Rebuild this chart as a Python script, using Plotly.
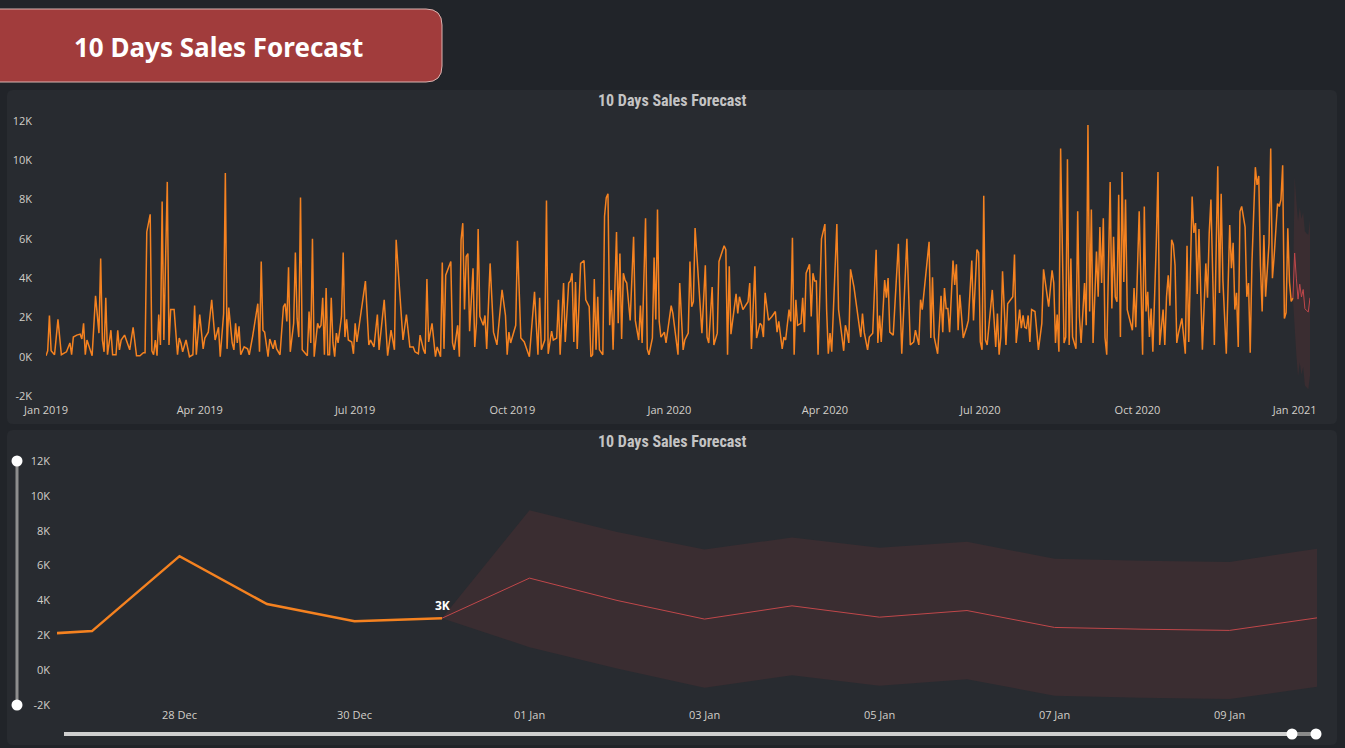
import pandas as pd
import plotly.graph_objects as go

# ---------------- data (sales in thousands) ----------------
# day offset from 2019-01-01 and observed daily sales (K)
obs_day = [
    0, 1, 2, 3, 5, 7, 9, 12, 14, 15, 16, 18, 20, 21, 22, 23, 24, 27, 29, 31,
    32, 33, 34, 35, 36, 38, 39, 41, 42, 43, 44, 46, 49, 51, 53, 55, 57, 58, 59, 61,
    62, 63, 64, 65, 66, 67, 68, 69, 71, 72, 73, 75, 77, 78, 79, 80, 82, 84, 86, 87,
    88, 90, 92, 93, 95, 97, 99, 101, 102, 104, 105, 106, 107, 108, 109, 110, 111, 112, 113, 114,
    116, 118, 119, 121, 124, 125, 126, 127, 128, 130, 131, 133, 134, 135, 137, 139, 140, 141, 142, 143,
    145, 146, 147, 148, 149, 150, 153, 154, 155, 156, 157, 159, 160, 161, 162, 163, 164, 165, 166, 167,
    168, 169, 170, 171, 173, 174, 175, 176, 177, 179, 180, 181, 182, 187, 189, 190, 192, 194, 195, 198,
    200, 202, 204, 205, 208, 209, 211, 213, 215, 216, 218, 219, 221, 222, 223, 224, 226, 228, 229, 231,
    232, 233, 234, 236, 237, 238, 239, 241, 242, 243, 244, 245, 246, 247, 248, 250, 251, 252, 253, 254,
    256, 257, 258, 260, 262, 264, 267, 269, 270, 271, 272, 275, 276, 278, 280, 281, 283, 286, 288, 289,
    290, 292, 293, 294, 296, 297, 299, 300, 301, 303, 304, 306, 307, 308, 309, 310, 311, 313, 315, 316,
    318, 319, 320, 321, 322, 323, 324, 326, 327, 328, 329, 330, 331, 332, 334, 335, 336, 337, 338, 339,
    340, 342, 344, 345, 347, 348, 349, 351, 352, 353, 355, 356, 357, 358, 359, 360, 362, 363, 365, 366,
    367, 370, 371, 373, 374, 376, 377, 378, 379, 380, 382, 384, 386, 387, 388, 390, 391, 393, 394, 397,
    398, 399, 400, 401, 404, 405, 406, 408, 411, 412, 413, 415, 416, 418, 419, 420, 421, 423, 425, 427,
    428, 429, 431, 432, 433, 435, 436, 437, 438, 439, 440, 442, 443, 444, 445, 447, 448, 449, 450, 451,
    452, 454, 456, 457, 458, 459, 460, 463, 464, 466, 467, 468, 469, 470, 471, 473, 475, 477, 478, 479,
    481, 482, 484, 486, 487, 488, 489, 491, 492, 493, 494, 496, 499, 501, 504, 506, 508, 509, 511, 512,
    513, 517, 518, 519, 520, 522, 524, 525, 526, 527, 528, 529, 531, 532, 533, 534, 535, 537, 539, 540,
    542, 543, 545, 546, 547, 548, 549, 550, 551, 554, 556, 557, 558, 559, 560, 562, 563, 564, 566, 567,
    568, 570, 571, 572, 573, 574, 575, 576, 577, 579, 581, 583, 584, 587, 589, 590, 591, 592, 593, 594,
    596, 597, 598, 599, 600, 601, 603, 604, 605, 606, 608, 609, 610, 611, 612, 613, 614, 615, 616, 617,
    618, 619, 620, 621, 623, 624, 625, 626, 627, 628, 629, 630, 631, 632, 633, 636, 637, 638, 640, 641,
    642, 643, 644, 645, 646, 647, 648, 650, 651, 652, 654, 655, 656, 657, 658, 659, 660, 661, 662, 663,
    665, 667, 668, 669, 671, 672, 673, 674, 675, 677, 679, 680, 681, 682, 684, 686, 687, 688, 689, 691,
    693, 694, 695, 696, 697, 698, 699, 700, 702, 703, 704, 705, 706, 708, 709, 710, 711, 712, 713, 714,
    716, 717, 718, 719, 721, 722, 723, 724, 725, 726, 727, 728, 729, 730,
]
obs_sales_k = [
    0.05, 0.3, 2.1, 0.3, 0.1, 1.9, 0.1, 0.25, 0.7, 0.1, 1.0, 1.1, 1.15, 0.9, 1.7, 0.1, 0.85, 0.05, 3.1, 1.2,
    5.0, 0.85, 0.25, 3.0, 0.1, 1.35, 0.1, 0.1, 1.35, 0.35, 0.85, 1.1, 0.35, 1.5, 0.05, 0.05, 0.2, 0.2, 6.35, 7.25,
    0.3, 0.1, 0.85, 0.05, 2.15, 0.6, 7.9, 0.85, 8.9, 0.6, 2.4, 2.4, 0.1, 0.95, 0.7, 0.25, 0.85, 0.0, 0.1, 2.6,
    0.1, 2.15, 0.4, 0.95, 1.25, 2.9, 0.85, 1.5, 0.0, 2.2, 9.35, 0.4, 2.5, 1.35, 0.7, 0.35, 1.7, 0.7, 1.55, 0.1,
    0.5, 0.4, 0.1, 1.05, 2.7, 0.25, 4.85, 1.35, 1.25, 0.0, 0.9, 0.4, 0.85, 0.4, 0.1, 2.55, 2.7, 1.8, 4.55, 0.25,
    1.7, 5.3, 1.95, 1.0, 8.1, 0.35, 0.05, 2.3, 0.7, 6.0, 0.0, 1.7, 1.45, 1.6, 3.0, 0.1, 3.5, 0.1, 0.1, 3.0,
    0.7, 0.0, 1.2, 0.7, 2.05, 5.3, 1.0, 1.9, 0.85, 0.75, 0.15, 1.7, 0.75, 3.85, 0.6, 0.85, 0.5, 2.15, 0.35, 2.9,
    0.05, 1.35, 0.35, 5.95, 2.4, 0.85, 2.15, 0.5, 0.5, 0.25, 0.15, 1.1, 0.35, 0.15, 3.95, 0.75, 1.7, 0.0, 0.5, 0.0,
    4.8, 0.4, 4.15, 4.6, 4.85, 0.7, 0.35, 1.6, 0.0, 5.95, 6.8, 2.4, 5.1, 5.25, 1.3, 4.5, 0.5, 1.7, 6.5, 2.05,
    1.6, 2.1, 0.4, 4.75, 1.25, 0.6, 3.4, 2.1, 0.1, 1.25, 0.7, 1.6, 5.9, 0.95, 0.75, 0.5, 0.0, 3.3, 0.1, 3.0,
    0.35, 0.85, 7.95, 0.15, 1.3, 0.85, 0.95, 2.9, 0.1, 3.75, 0.75, 3.75, 3.85, 4.25, 0.75, 3.8, 0.4, 4.75, 4.9, 2.9,
    2.55, 0.0, 0.1, 3.95, 0.35, 3.05, 0.35, 0.1, 7.15, 8.1, 8.3, 1.6, 3.4, 0.35, 6.35, 1.7, 5.25, 0.9, 4.25, 3.9,
    3.75, 1.85, 6.1, 1.85, 0.85, 2.6, 0.7, 7.05, 0.4, 0.1, 0.95, 5.05, 1.9, 7.5, 1.8, 1.0, 1.25, 0.7, 2.05, 2.6,
    2.2, 0.1, 3.75, 0.35, 0.85, 1.2, 4.85, 2.55, 2.8, 6.55, 3.9, 1.2, 4.65, 1.0, 0.7, 3.55, 0.6, 1.2, 4.85, 5.65,
    5.45, 0.1, 4.6, 1.15, 3.2, 2.2, 3.05, 2.4, 2.8, 3.75, 0.4, 4.6, 0.95, 1.7, 1.6, 1.0, 3.25, 1.85, 2.05, 2.3,
    1.25, 1.8, 0.4, 1.0, 0.85, 2.4, 1.8, 6.05, 0.1, 2.9, 1.6, 1.7, 3.0, 1.25, 4.25, 4.7, 2.05, 4.25, 3.85, 3.85,
    0.1, 6.0, 6.75, 2.4, 0.15, 1.2, 0.25, 6.75, 2.4, 0.85, 0.3, 1.6, 1.25, 0.7, 4.45, 3.55, 2.2, 1.0, 2.2, 1.25,
    0.35, 1.0, 1.2, 5.45, 0.7, 2.1, 0.75, 3.9, 3.0, 4.0, 1.25, 1.1, 5.75, 0.15, 6.0, 0.6, 0.75, 1.35, 0.6, 2.9,
    2.4, 5.85, 0.95, 4.05, 1.0, 0.15, 3.1, 1.25, 3.5, 2.45, 2.45, 1.25, 4.9, 3.65, 4.7, 1.35, 3.15, 0.95, 1.5, 1.85,
    4.9, 1.85, 5.45, 5.3, 0.75, 0.35, 8.2, 0.85, 0.6, 3.4, 0.5, 2.2, 0.1, 1.0, 4.35, 0.6, 2.7, 2.8, 3.05, 5.2,
    0.7, 2.4, 1.45, 2.1, 1.5, 1.45, 2.1, 0.75, 2.4, 2.3, 0.35, 1.7, 4.45, 2.55, 4.4, 3.75, 0.7, 2.15, 0.25, 10.6,
    0.7, 1.0, 10.05, 0.6, 5.0, 1.0, 0.4, 7.4, 2.05, 0.7, 3.75, 1.6, 11.8, 2.3, 7.5, 0.7, 3.0, 5.35, 3.05, 6.6,
    3.75, 7.05, 0.95, 0.1, 8.9, 2.45, 6.1, 3.05, 2.8, 8.25, 1.0, 9.4, 3.8, 8.0, 2.4, 1.35, 3.5, 1.5, 7.4, 3.75,
    0.1, 7.65, 2.3, 3.3, 1.0, 2.45, 0.25, 5.75, 9.4, 0.6, 2.4, 0.6, 3.05, 4.15, 2.6, 5.95, 5.7, 4.65, 0.7, 1.2,
    1.95, 0.15, 5.65, 0.75, 8.15, 6.3, 6.8, 3.2, 6.5, 0.35, 4.75, 3.0, 6.3, 8.0, 0.6, 9.7, 3.25, 8.3, 3.9, 0.15,
    6.7, 4.5, 5.8, 2.4, 3.25, 0.5, 7.4, 7.65, 6.6, 3.05, 3.75, 0.2, 4.75, 9.65, 8.75, 9.2, 4.6, 2.3, 6.2, 3.05,
    5.75, 10.6, 4.0, 5.1, 7.8, 7.65, 8.0, 9.75, 1.95, 2.24, 6.54, 3.79, 2.81, 2.98,
]
assert len(obs_day) == len(obs_sales_k)

fc_dates = ["2020-12-31", "2021-01-01", "2021-01-02", "2021-01-03", "2021-01-04", "2021-01-05",
            "2021-01-06", "2021-01-07", "2021-01-08", "2021-01-09", "2021-01-10"]
fc_mid_k = [2.98, 5.28, 4.0, 2.93, 3.69, 3.04, 3.42, 2.45, 2.35, 2.28, 3.0]
fc_upper_k = [2.98, 9.18, 7.93, 6.92, 7.61, 7.02, 7.36, 6.39, 6.27, 6.21, 6.96]
fc_lower_k = [2.98, 1.32, 0.1, -1.01, -0.29, -0.9, -0.52, -1.47, -1.59, -1.66, -0.96]

y_tick_vals = [-2, 0, 2, 4, 6, 8, 10, 12]
y_tick_text = ["-2K", "0K", "2K", "4K", "6K", "8K", "10K", "12K"]
chart_title = "10 Days Sales Forecast"

obs_dates = pd.Timestamp("2019-01-01") + pd.to_timedelta(obs_day, unit="D")

# ---------------- style ----------------
W, H = 1345, 748
BG = "#212429"
PANEL = "#282b30"
ORANGE = "#f58220"
FC_LINE = "#c0474a"
BAND = "#3a2d31"
TICK_FONT = dict(family="Open Sans, Noto Sans, sans-serif", size=11, color="#d2cfc9")
TITLE_FONT = dict(family="Liberation Sans Narrow, Roboto Condensed, Roboto, sans-serif", size=16,
                  color="#c4c4c4")


def px(x):
    return x / W


def py(y):
    return 1 - y / H


def rrect(x0, y0, x1, y1, r):
    # rounded rectangle path in paper coords from pixel coords
    pts = [
        f"M {px(x0 + r)},{py(y0)}",
        f"L {px(x1 - r)},{py(y0)}",
        f"Q {px(x1)},{py(y0)} {px(x1)},{py(y0 + r)}",
        f"L {px(x1)},{py(y1 - r)}",
        f"Q {px(x1)},{py(y1)} {px(x1 - r)},{py(y1)}",
        f"L {px(x0 + r)},{py(y1)}",
        f"Q {px(x0)},{py(y1)} {px(x0)},{py(y1 - r)}",
        f"L {px(x0)},{py(y0 + r)}",
        f"Q {px(x0)},{py(y0)} {px(x0 + r)},{py(y0)}",
        "Z",
    ]
    return " ".join(pts)


fig = go.Figure()

for xa, ya, lw in (("x", "y", 1.5), ("x2", "y2", 2.5)):
    fig.add_trace(go.Scatter(x=fc_dates, y=fc_lower_k, mode="lines", line=dict(width=0),
                             xaxis=xa, yaxis=ya, showlegend=False, hoverinfo="skip"))
    fig.add_trace(go.Scatter(x=fc_dates, y=fc_upper_k, mode="lines", line=dict(width=0),
                             fill="tonexty", fillcolor=BAND, xaxis=xa, yaxis=ya,
                             showlegend=False, hoverinfo="skip"))
    fig.add_trace(go.Scatter(x=fc_dates, y=fc_mid_k, mode="lines",
                             line=dict(color=FC_LINE, width=1), xaxis=xa, yaxis=ya,
                             showlegend=False))
    fig.add_trace(go.Scatter(x=obs_dates, y=obs_sales_k, mode="lines",
                             line=dict(color=ORANGE, width=lw), xaxis=xa, yaxis=ya,
                             showlegend=False))

common_y = dict(range=[-2, 12], tickvals=y_tick_vals, ticktext=y_tick_text, showgrid=False,
                zeroline=False, showline=False, ticks="", tickfont=TICK_FONT, fixedrange=True,
                automargin=False)
common_x = dict(type="date", showgrid=False, zeroline=False, showline=False, ticks="",
                tickfont=TICK_FONT, automargin=False)

fig.update_layout(
    width=W, height=H,
    margin=dict(l=0, r=0, t=0, b=0, autoexpand=False),
    paper_bgcolor=BG, plot_bgcolor="rgba(0,0,0,0)",
    hovermode=False,
    xaxis=dict(domain=[px(46), px(1310)], range=["2019-01-01", "2021-01-10"],
               dtick="M3", tick0="2019-01-01", tickformat="%b %Y", anchor="y",
               ticklabelstandoff=6, **common_x),
    yaxis=dict(domain=[py(396), py(121)], anchor="x", ticklabelstandoff=13, **common_y),
    xaxis2=dict(domain=[px(57), px(1317)], range=["2020-12-26 14:24", "2021-01-10"],
                dtick=2 * 86400000, tick0="2020-12-28", tickformat="%d %b", anchor="y2",
                ticklabelstandoff=2, **common_x),
    yaxis2=dict(domain=[py(705), py(461)], anchor="x2", ticklabelstandoff=6, **common_y),
)

shapes = [
    dict(type="path", path=rrect(7, 90, 1337, 424, 6), fillcolor=PANEL, line=dict(width=0),
         xref="paper", yref="paper", layer="below"),
    dict(type="path", path=rrect(7, 430, 1337, 745, 6), fillcolor=PANEL, line=dict(width=0),
         xref="paper", yref="paper", layer="below"),
    dict(type="path", path=rrect(-20, 9, 442, 82, 16), fillcolor="#a13c3c",
         line=dict(width=1, color="#d9b3b0"), xref="paper", yref="paper", layer="below"),
    # vertical slider
    dict(type="line", x0=px(17), x1=px(17), y0=py(461), y1=py(705), xref="paper", yref="paper",
         line=dict(color="#8e8e8e", width=3)),
    # horizontal slider
    dict(type="line", x0=px(64), x1=px(1292), y0=py(734), y1=py(734), xref="paper", yref="paper",
         line=dict(color="#cfcfcf", width=4)),
    dict(type="line", x0=px(1292), x1=px(1316), y0=py(734), y1=py(734), xref="paper",
         yref="paper", line=dict(color="#8a8a8a", width=4)),
]
for cx, cy in ((17, 461), (17, 705), (1292, 734), (1316, 734)):
    shapes.append(dict(type="circle", xref="paper", yref="paper",
                       x0=px(cx - 5.5), x1=px(cx + 5.5), y0=py(cy + 5.5), y1=py(cy - 5.5),
                       fillcolor="#ffffff", line=dict(color="#ffffff", width=0)))
fig.update_layout(shapes=shapes)

annotations = [
    dict(text="<b>10 Days Sales Forecast</b>", x=px(218), y=py(47), xref="paper", yref="paper",
         showarrow=False, xanchor="center", yanchor="middle",
         font=dict(family="Noto Sans, Open Sans, sans-serif", size=26, color="#ffffff")),
    dict(text=f"<b>{chart_title}</b>", x=px(672), y=py(101), xref="paper", yref="paper",
         showarrow=False, xanchor="center", yanchor="middle", font=TITLE_FONT),
    dict(text=f"<b>{chart_title}</b>", x=px(672), y=py(441), xref="paper", yref="paper",
         showarrow=False, xanchor="center", yanchor="middle", font=TITLE_FONT),
    dict(text="<b>3K</b>", x=fc_dates[0], y=fc_mid_k[0], xref="x2", yref="y2",
         showarrow=False, yshift=13, xanchor="center",
         font=dict(family="Open Sans, sans-serif", size=12, color="#ffffff")),
]
fig.update_layout(annotations=annotations)

fig.write_html("out.html", config={"displayModeBar": False})
